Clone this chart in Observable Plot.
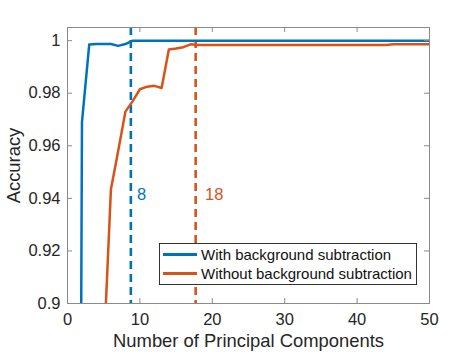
<!DOCTYPE html>
<html>
<head>
<meta charset="utf-8">
<script src="https://cdn.jsdelivr.net/npm/d3@7"></script>
<script src="https://cdn.jsdelivr.net/npm/@observablehq/plot@0.6"></script>
<style>
  body { margin: 0; background: #fff; }
  #wrap { position: relative; width: 474px; height: 355px; font-family: "Liberation Sans", Arial, sans-serif; }
  #legend { position: absolute; left: 159px; top: 243px; width: 258px; height: 42px; border: 1px solid #333; background: #fff; box-sizing: border-box; }
  .row { position: absolute; left: 0; height: 19px; display: flex; align-items: center; font-size: 15px; color: #111; white-space: nowrap; }
  .sw { width: 34px; height: 2.5px; margin-left: 3px; margin-right: 4px; }
</style>
</head>
<body>
<div id="wrap"></div>
<script>
// ---- data ----
const components = d3.range(1, 51);
const withBg = [0.30, 0.969, 0.9985, 0.9987, 0.9987, 0.9987, 0.998, 0.9987,
  1.0, 1.0, 1.0, 1.0, 1.0, 1.0, 1.0, 1.0, 1.0, 1.0, 1.0, 1.0,
  1.0, 1.0, 1.0, 1.0, 1.0, 1.0, 1.0, 1.0, 1.0, 1.0,
  1.0, 1.0, 1.0, 1.0, 1.0, 1.0, 1.0, 1.0, 1.0, 1.0,
  1.0, 1.0, 1.0, 1.0, 1.0, 1.0, 1.0, 1.0, 1.0, 1.0];
const withoutBg = [0.50, 0.60, 0.70, 0.80, 0.881, 0.9435, 0.958, 0.973, 0.977, 0.9815,
  0.9825, 0.9828, 0.982, 0.9966, 0.997, 0.9975, 0.9986, 0.9983, 0.9983, 0.9983,
  0.9983, 0.9983, 0.9983, 0.9983, 0.9983, 0.9983, 0.9983, 0.9983, 0.9983, 0.9983,
  0.9983, 0.9983, 0.9983, 0.9983, 0.9983, 0.9983, 0.9983, 0.9983, 0.9983, 0.9983,
  0.9983, 0.9983, 0.9983, 0.9983, 0.9986, 0.9986, 0.9986, 0.9986, 0.9986, 0.9986];
const seriesNames = ["With background subtraction", "Without background subtraction"];
const seriesColors = ["#0072BD", "#D95319"];
const markerX = [8.75, 17.7];
const markerLabels = ["8", "18"];
const markerLabelX = [9.6, 19.0];
const markerLabelY = [0.9414, 0.9414];
const xTicks = [0, 10, 20, 30, 40, 50];
const yTicks = [0.9, 0.92, 0.94, 0.96, 0.98, 1];
const yTickLabels = ["0.9", "0.92", "0.94", "0.96", "0.98", "1"];

// ---- build ----
const W = 474, H = 355, mL = 67, mR = 45, mT = 27, mB = 52;
const fw = W - mL - mR, fh = H - mT - mB, tk = 5;
const s1 = components.map((x, i) => ({x, y: withBg[i]}));
const s2 = components.map((x, i) => ({x, y: withoutBg[i]}));
const markers = markerX.map((x, i) => ({x, label: markerLabels[i], lx: markerLabelX[i], ly: markerLabelY[i], c: seriesColors[i]}));
const axisGray = "#8a8a8a";
const font = '"Liberation Sans", Arial, sans-serif';

const chart = Plot.plot({
  width: W, height: H,
  marginLeft: mL, marginRight: mR, marginTop: mT, marginBottom: mB,
  style: {fontFamily: font, fontSize: "16.5px", color: "#262626", background: "#fff"},
  x: {domain: [0, 50]},
  y: {domain: [0.9, 1.005]},
  marks: [
    Plot.ruleX(markers, {x: "x", stroke: "c", strokeWidth: 2.6, strokeDasharray: "8,5"}),
    Plot.line(s1, {x: "x", y: "y", stroke: seriesColors[0], strokeWidth: 2.5, clip: true}),
    Plot.line(s2, {x: "x", y: "y", stroke: seriesColors[1], strokeWidth: 2.5, clip: true}),
    Plot.text(markers, {x: "lx", y: "ly", text: "label", fill: "c", textAnchor: "start", fontSize: 16.5}),
    Plot.frame({stroke: axisGray}),
    Plot.tickX(xTicks, {x: d => d, stroke: axisGray, insetTop: fh - tk}),
    Plot.tickX(xTicks, {x: d => d, stroke: axisGray, insetBottom: fh - tk}),
    Plot.tickY(yTicks, {y: d => d, stroke: axisGray, insetRight: fw - tk}),
    Plot.tickY(yTicks, {y: d => d, stroke: axisGray, insetLeft: fw - tk}),
    Plot.axisX({ticks: xTicks, tickSize: 0, tickPadding: 10, label: null, fontSize: 16.5, fill: "#262626"}),
    Plot.axisY({ticks: yTicks, tickSize: 0, tickPadding: 7, label: null, fontSize: 16.5, fill: "#262626", tickFormat: (d) => yTickLabels[yTicks.indexOf(d)] ?? d}),
    Plot.text(["Number of Principal Components"], {frameAnchor: "bottom", lineAnchor: "middle", textAnchor: "middle", dy: 38, fontSize: 18.4, fill: "#262626"}),
    Plot.text(["Accuracy"], {frameAnchor: "left", lineAnchor: "middle", textAnchor: "middle", dx: -53, rotate: -90, fontSize: 18.4, fill: "#262626"})
  ]
});

const wrap = document.getElementById("wrap");
wrap.appendChild(chart);
const lg = document.createElement("div");
lg.id = "legend";
seriesNames.forEach((n, i) => {
  const r = document.createElement("div");
  r.className = "row";
  r.style.top = (i === 0 ? 1 : 20) + "px";
  const sw = document.createElement("span");
  sw.className = "sw";
  sw.style.background = seriesColors[i];
  const t = document.createElement("span");
  t.textContent = n;
  r.appendChild(sw); r.appendChild(t);
  lg.appendChild(r);
});
wrap.appendChild(lg);
</script>
</body>
</html>
